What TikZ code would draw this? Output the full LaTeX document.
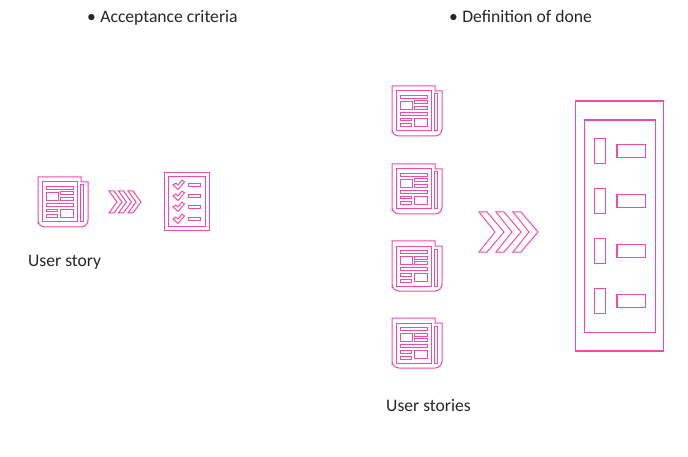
\documentclass[tikz,border=0pt]{standalone}
\usepackage{fontspec}
\setmainfont{Carlito}
\definecolor{inkpink}{HTML}{F04BA8}
\begin{document}
\begin{tikzpicture}
  [
    x=1pt, y=-1pt,
    inkline/.style =
      {draw=inkpink, line width=1pt, line join=miter},
    label/.style =
      {anchor=base west, inner sep=0pt, font=\fontsize{17.6}{20}\selectfont, text=black!85},
    storyicon/.pic =
      {
        \draw [inkline] (0,0) -- (43,0) -- (43,5) -- (50,5) -- (50,40) [rounded corners=7pt] -- (50,50) -- (0,50) -- (0,40) [sharp corners] -- cycle;
        \draw [inkline] (4,5) rectangle (39,45);
        \draw [inkline] (42,8) rectangle (45.5,45);
        \draw [inkline] (8,9.5) rectangle (35,12.5);
        \draw [inkline] (8,15.5) rectangle (20,23.5);
        \draw [inkline] (22.7,15) rectangle (35,18);
        \draw [inkline] (22.7,20.5) rectangle (35,23.5);
        \draw [inkline] (8,26.5) rectangle (35,29.5);
        \draw [inkline] (8,32.5) rectangle (19.7,35);
        \draw [inkline] (8,38) rectangle (19.7,41);
        \draw [inkline] (22.7,32.5) rectangle (35,40.5);
      },
    smallchevron/.pic =
      {
        \draw [inkline] (0,0) -- (5,0) -- (13,11) -- (5,22) -- (0,22) -- (8,11) -- cycle;
      },
    bigchevron/.pic =
      {
        \draw [inkline] (0,0) -- (8,0) -- (25,20) -- (8,40) -- (0,40) -- (16,20) -- cycle;
      }
  ]
  \useasboundingbox (0,0) rectangle (688,457);

  \node [label] at (87, 23)  (accept) {•\hspace{0.25em}Acceptance criteria};
  \node [label] at (449, 23) (done)   {•\hspace{0.25em}Definition of done};
  \node [label] at (28, 266.5) (story)  {User story};
  \node [label] at (386, 411) (stories) {User stories};

  \pic at (38, 177) {storyicon};
  \foreach \y in {86, 164, 241, 318}
    \pic at (392, \y) {storyicon};

  \foreach \x in {109, 118.5, 128}
    \pic at (\x, 191) {smallchevron};
  \foreach \x in {479, 496, 513}
    \pic at (\x, 212) {bigchevron};

  \draw [inkline] (164,173) rectangle (209,231);
  \draw [inkline] (168,177) rectangle (205,227);
  \foreach \y in {185, 196, 207, 219}
  {
    \draw [inkline] (173,\y) -- (176,\y-2) -- (178,\y) -- (182,\y-5) -- (184.5,\y-3) -- (178,\y+4.5) -- cycle;
    \draw [inkline] (188,\y-1.5) rectangle (200,\y+1.5);
  }

  \draw [inkline, line width=1.2pt] (575.7,101) rectangle (663.7,351);
  \draw [inkline, line width=1.2pt] (584.3,120) rectangle (655.3,332.3);
  \foreach \y in {138.7, 188.5, 238.4, 288.3}
  {
    \draw [inkline, line width=1.2pt] (594.3,\y) rectangle (605.7,\y+25);
    \draw [inkline, line width=1.2pt] (617,\y+6) rectangle (645.7,\y+19);
  }
\end{tikzpicture}
\end{document}
